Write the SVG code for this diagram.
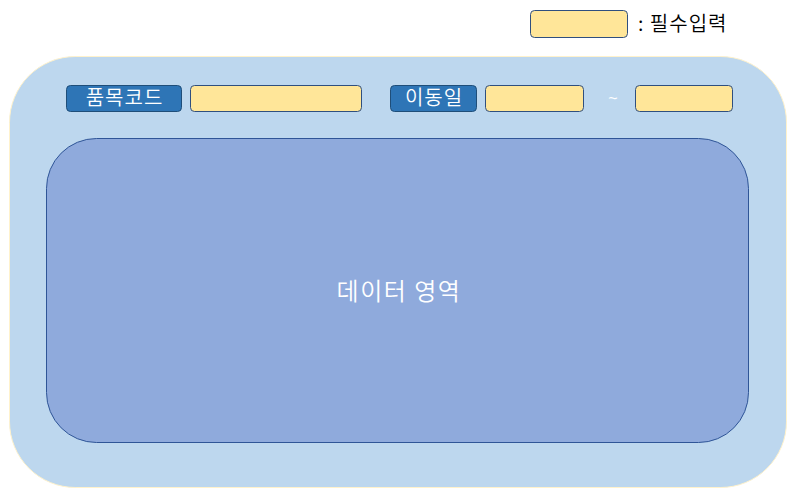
<svg xmlns="http://www.w3.org/2000/svg" width="800" height="498" viewBox="0 0 800 498">
<style>
.lbl{fill:#2E75B6;stroke:#1F4E79;stroke-width:1}
.inp{fill:#FFE699;stroke:#2F4F7F;stroke-width:1}
.wt{fill:#FFFFFF;font-family:"Noto Sans CJK KR","Noto Sans",sans-serif;font-size:20px;letter-spacing:1px;text-anchor:middle;font-weight:350}
.bk{fill:#000000;font-family:"Noto Sans CJK KR","Noto Sans",sans-serif;font-size:20px;letter-spacing:1px;font-weight:350}
</style>
<rect width="800" height="498" fill="#FFFFFF"/>
<g id="legend">
<rect x="530.5" y="10.5" width="97" height="27" rx="4" class="inp"/>
<text x="638" y="31" class="bk">: 필수입력</text>
</g>
<g id="outer">
<rect x="9.5" y="56.5" width="777" height="431" rx="66" ry="66" fill="#BDD7EE" stroke="#FFF2CC" stroke-width="1"/>
</g>
<g id="item-code">
<rect x="66.5" y="85.5" width="115" height="26" rx="4" class="lbl"/>
<text x="124.5" y="105" class="wt">품목코드</text>
</g>
<g id="item-code-input">
<rect x="190.5" y="85.5" width="171" height="26" rx="4" class="inp"/>
</g>
<g id="move-date">
<rect x="390.5" y="85.5" width="86" height="26" rx="4" class="lbl"/>
<text x="434" y="105" class="wt">이동일</text>
</g>
<g id="date-from">
<rect x="485.5" y="85.5" width="98" height="26" rx="4" class="inp"/>
</g>
<g id="tilde">
<text x="613" y="104" fill="#FFFFFF" font-family="Liberation Sans, sans-serif" font-size="16" text-anchor="middle">~</text>
</g>
<g id="date-to">
<rect x="635.5" y="85.5" width="97" height="26" rx="4" class="inp"/>
</g>
<g id="data-area">
<rect x="46.5" y="138.5" width="702" height="304" rx="50" ry="50" fill="#8FAADC" stroke="#2F5597" stroke-width="1"/>
<text x="399" y="300" fill="#FFFFFF" font-family="Noto Sans CJK KR, Noto Sans, sans-serif" font-size="24" font-weight="350" letter-spacing="1.5" text-anchor="middle">데이터 영역</text>
</g>
<g id="connectors"></g>
</svg>
